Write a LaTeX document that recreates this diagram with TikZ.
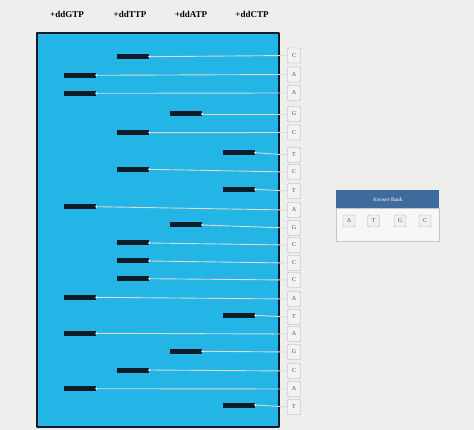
\documentclass[tikz,border=0pt]{standalone}
\usepackage{fontspec}
\setmainfont{Liberation Serif}
\usepackage{xcolor}
\usetikzlibrary{calc}
\definecolor{gelblue}{HTML}{22B5E6}
\definecolor{gelframe}{HTML}{0E1C2A}
\definecolor{bandcol}{HTML}{0F1B28}
\definecolor{bankblue}{HTML}{3F6B9C}
\definecolor{paper}{HTML}{EEEEEC}
\tikzset{
  band/.style={fill=bandcol, minimum width=32pt, minimum height=5pt, inner sep=0pt},
  base/.style={draw=gray!65, fill=gray!10, minimum width=13pt, minimum height=15pt, inner sep=0pt,
    rounded corners=1pt, font=\fontsize{6}{7}\selectfont, text=gray!60!black},
  link/.style={draw=white!70!gray, line width=0.9pt},
  lane/.style={font=\fontsize{9}{10}\selectfont\bfseries},
  pick/.style={draw=gray!60, fill=gray!12, minimum width=12pt, minimum height=12pt, inner sep=0pt,
    rounded corners=1.5pt, font=\fontsize{6}{7}\selectfont, text=gray!60!black}
}

\begin{document}
\begin{tikzpicture}[line cap=round,line join=round,x=1pt,y=-1pt]
\useasboundingbox [fill=paper] (0,0) rectangle (474,430);
% lanes
\node[lane] (hG) at (67,14) {+ddGTP};
\node[lane] (hT) at (130,14) {+ddTTP};
\node[lane] (hA) at (191,14) {+ddATP};
\node[lane] (hC) at (252,14) {+ddCTP};
% gel
\draw [fill=gelblue, draw=gelframe, line width=1.5pt] (37,33) rectangle (279,427);
% bands and bases
\foreach \i/\y/\ln/\yb/\b in {1/56.7/2/55.5/C, 2/75.3/1/74.5/A, 3/93.3/1/93/A, 4/114/3/114/G,
  5/132.7/2/132.5/C, 6/152.7/4/155/T, 7/169.3/2/172/C, 8/189.3/4/191/T, 9/206.7/1/210/A,
  10/225/3/228/G, 11/243/2/245/C, 12/261/2/263/C, 13/278.7/2/280/C, 14/297.3/1/299/A,
  15/315.3/4/317/T, 16/333.3/1/334/A, 17/351.3/3/352/G, 18/370/2/371/C, 19/388.7/1/389/A,
  20/405/4/407/T}{
  \node[band] (b\i) at ({27+53*\ln},\y) {};
  \node[base] (l\i) at (294,\yb) {\b};
  \draw[link] (b\i.east) -- (l\i.west);
  \fill[white] (b\i.east) circle (1pt);
}
% answer bank
\node[fill=bankblue, text=white, minimum width=103pt, minimum height=18pt, inner sep=0pt,
  anchor=north west, font=\fontsize{5.5}{6}\selectfont] (bank) at (336,190) {Answer Bank};
\node[draw=gray!45, fill=gray!6, minimum width=103pt, minimum height=33pt, anchor=north] (tray) at (bank.south) {};
\node[pick] (pA) at (349,221) {A};
\node[pick] (pT) at (373.5,221) {T};
\node[pick] (pG) at (400,221) {G};
\node[pick] (pC) at (425,221) {C};
\end{tikzpicture}
\end{document}
